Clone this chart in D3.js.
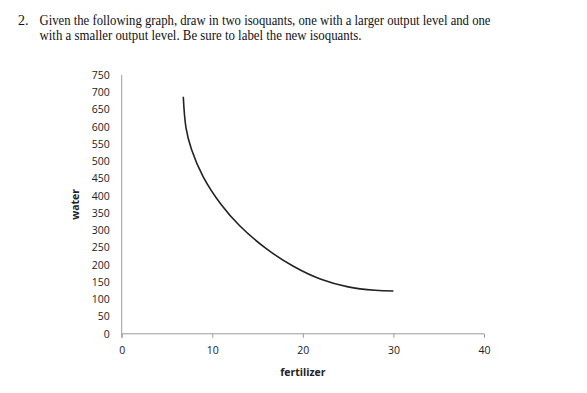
<!DOCTYPE html>
<html><head><meta charset="utf-8">
<script src="https://cdn.jsdelivr.net/npm/d3@7"></script>
<style>body{margin:0;background:#fff}</style>
</head><body>
<svg id="c" width="587" height="393"></svg>
<script>
const titleLines = ["Given the following graph, draw in two isoquants, one with a larger output level and one",
                    "with a smaller output level.  Be sure to label the new isoquants."];
const fertilizer = [6.8, 7.1, 7.7, 9, 11, 13, 16, 19, 22, 25, 28, 30];
const water      = [687, 597, 535, 455, 374, 314, 246, 195, 158, 136, 126, 124];
const xTicks = [0, 10, 20, 30, 40];
const yTicks = d3.range(0, 751, 50);

const svg = d3.select("#c");
const x = d3.scaleLinear().domain([0, 40]).range([121.7, 484]);
const y = d3.scaleLinear().domain([0, 750]).range([333.8, 75]);

// title
const tg = svg.append("g").attr("font-family","'Liberation Serif', 'Times New Roman', serif").attr("font-size","14px").attr("fill","#111");
tg.append("text").attr("x",18).attr("y",25).text("2.");
tg.append("text").attr("x",39.5).attr("y",25).attr("textLength",451).attr("lengthAdjust","spacingAndGlyphs").text(titleLines[0]);
tg.append("text").attr("x",39.5).attr("y",39.5).attr("textLength",322).attr("lengthAdjust","spacingAndGlyphs").text(titleLines[1]);

const font = "'Open Sans', 'Liberation Sans', sans-serif";
// x axis
const xa = svg.append("g").attr("transform",`translate(0,${y(0)})`)
  .call(d3.axisBottom(x).tickValues(xTicks).tickSize(4).tickPadding(9));
xa.select(".domain").attr("stroke","#9a9a9a").attr("d",`M${x(0)},0H${x(40)}`);
xa.selectAll(".tick line").attr("stroke","#9a9a9a");
xa.selectAll("text").attr("font-family",font).attr("font-size","10.5px").attr("fill","#222");

// y axis
const ya = svg.append("g").attr("transform",`translate(${x(0)},0)`)
  .call(d3.axisLeft(y).tickValues(yTicks).tickSize(0).tickPadding(12));
ya.select(".domain").attr("stroke","#9a9a9a").attr("d",`M0,${y(750)}V${y(0)+4}`);
ya.selectAll("text").attr("font-family",font).attr("font-size","10.5px").attr("fill","#222");

// axis titles
svg.append("text").attr("x",x(20)).attr("y",375.5).attr("text-anchor","middle")
  .attr("font-family",font).attr("font-size","10.5px").attr("font-weight","bold").attr("fill","#222").text("fertilizer");
svg.append("text").attr("transform",`translate(79,${y(375)}) rotate(-90)`).attr("text-anchor","middle")
  .attr("font-family",font).attr("font-size","10.5px").attr("font-weight","bold").attr("fill","#222").text("water");

// curve
const pts = fertilizer.map((f,i)=>[f, water[i]]);
svg.append("path").datum(pts)
  .attr("fill","none").attr("stroke","#222").attr("stroke-width",1.6)
  .attr("d", d3.line().x(d=>x(d[0])).y(d=>y(d[1])).curve(d3.curveCatmullRom.alpha(0.5)));
</script>
</body></html>
